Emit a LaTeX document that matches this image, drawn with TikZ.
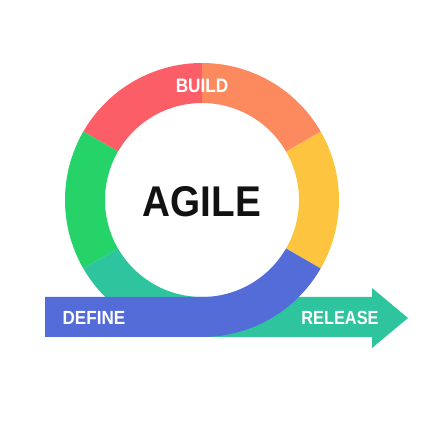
\documentclass[tikz,border=0pt]{standalone}
\usepackage{fontspec}
\setmainfont{Liberation Sans}
\definecolor{agred}{HTML}{FC5E68}
\definecolor{agorange}{HTML}{FD8A5F}
\definecolor{agyellow}{HTML}{FDC53F}
\definecolor{aggreen}{HTML}{26D368}
\definecolor{agteal}{HTML}{2EC49E}
\definecolor{agblue}{HTML}{536CD8}
\begin{document}
\begin{tikzpicture}[x=1pt,y=1pt,
  lbl/.style={text=white,font=\bfseries\fontsize{19}{19}\selectfont}]
\fill[white] (0,0) rectangle (440,440);
\begin{scope}[shift={(202,240)}]
% ring
\foreach \a/\c in {90/agred,150/aggreen,210/agteal,-30/agyellow,30/agorange}
  \fill[\c] (\a:137) arc[start angle=\a,end angle=\a+60,radius=137] -- (\a+60:97) arc[start angle=\a+60,end angle=\a,radius=97] -- cycle;
% release arrow
\fill[agteal] (0,-137) -- (170,-137) -- (170,-148) -- (206,-118) -- (170,-88) -- (170,-97) -- (0,-97) -- cycle;
% define band
\fill[agblue] (-157,-137) -- (0,-137) arc[start angle=-90,end angle=-30,radius=137] -- (-30:97) arc[start angle=-30,end angle=-90,radius=97] -- (-157,-97) -- cycle;
\node[lbl,font=\bfseries\fontsize{19.5}{19.5}\selectfont] (build) at (0,114) {\scalebox{0.88}[1]{BUILD}};
\node[font=\bfseries\fontsize{43}{43}\selectfont,text=black!93] (agile) at (0,-2) {\scalebox{0.9}[1]{AGILE}};
\node[lbl] (define) at (-108,-118) {\scalebox{0.9}[1]{DEFINE}};
\node[lbl] (release) at (138,-118) {\scalebox{0.86}[1]{RELEASE}};
\end{scope}
\end{tikzpicture}
\end{document}
